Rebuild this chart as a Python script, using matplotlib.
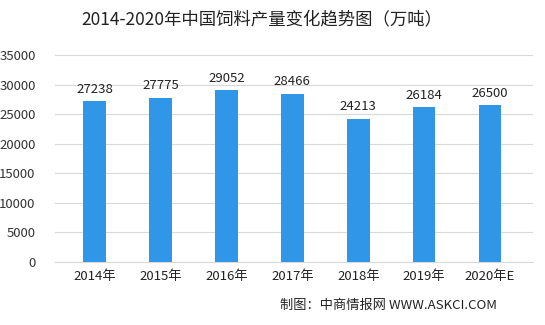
import matplotlib
matplotlib.use("Agg")
import matplotlib.pyplot as plt

plt.rcParams['font.family'] = ['Noto Sans CJK SC', 'DejaVu Sans']

years = ["2014年", "2015年", "2016年", "2017年", "2018年", "2019年", "2020年E"]
output = [27238, 27775, 29052, 28466, 24213, 26184, 26500]
yticks = [0, 5000, 10000, 15000, 20000, 25000, 30000, 35000]

BAR_COLOR = "#3096E8"

fig = plt.figure(figsize=(5.45, 3.25), dpi=100)
ax = fig.add_axes([0.101, 0.194, 0.877, 0.637])

x = list(range(len(years)))
ax.bar(x, output, width=0.34, color=BAR_COLOR, zorder=3)
for xi, v in zip(x, output):
    ax.text(xi, v + 900, str(v), ha="center", va="bottom", fontsize=9.5, color="#222222")

ax.set_xlim(-0.6, 6.65)
ax.set_ylim(0, 35000)
ax.set_yticks(yticks)
ax.set_yticklabels([str(t) for t in yticks], fontsize=9.5, color="#333333")
ax.set_xticks(x)
ax.set_xticklabels(years, fontsize=9.5, color="#222222")
ax.grid(axis="y", color="#d9d9d9", linewidth=0.8, zorder=0)
for s in ["top", "right", "left"]:
    ax.spines[s].set_visible(False)
ax.spines["bottom"].set_color("#d9d9d9")
ax.tick_params(axis="both", length=0, pad=6)
ax.tick_params(axis="y", pad=14)

fig.text(0.48, 0.94, "2014-2020年中国饲料产量变化趋势图（万吨）", ha="center", va="center",
         fontsize=12.5, color="#222222")
fig.text(0.912, 0.06, "制图：中商情报网 WWW.ASKCI.COM", ha="right", va="center",
         fontsize=9.5, color="#222222")

fig.savefig("out.png", dpi=100, facecolor="white")
